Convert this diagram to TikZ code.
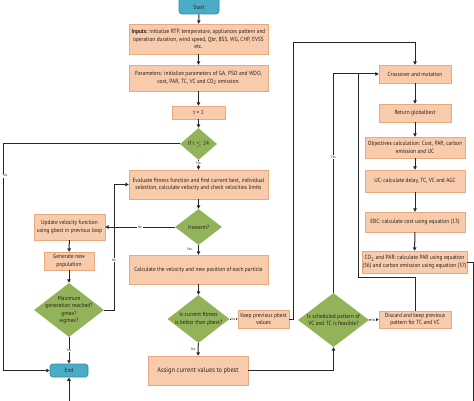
\documentclass[tikz,border=0pt]{standalone}
\usepackage{fontspec}
\setmainfont[FakeStretch=0.9]{PT Sans}
\usetikzlibrary{calc}
\usetikzlibrary{shapes.geometric}
\usetikzlibrary{arrows.meta}
\definecolor{boxfill}{HTML}{F8CBAD}
\definecolor{boxline}{HTML}{E9A97E}
\definecolor{decfill}{HTML}{93B35A}
\definecolor{termfill}{HTML}{4BACC6}
\definecolor{termline}{HTML}{2F8DAA}
\definecolor{ink}{HTML}{2A2118}

\begin{document}
\begin{tikzpicture}[x=1pt,y=-1pt,inner sep=0pt,text=ink,
  font=\fontsize{6}{7.4}\selectfont,
  box/.style={draw=boxline,fill=boxfill,align=center,line width=0.4pt},
  dec/.style={diamond,fill=decfill,inner sep=0pt},
  dectext/.style={align=center,text=ink},
  term/.style={draw=termline,fill=termfill,rounded corners=3pt,line width=0.7pt},
  ln/.style={line width=1pt,draw=black!85},
  arr/.style={ln,-{Triangle[length=3.4pt,width=3.4pt]}},
  lbl/.style={fill=white,inner sep=0.6pt,font=\fontsize{3.6}{4}\selectfont}]
\clip (0,0) rectangle (474,401);

\node[term,minimum width=40pt,minimum height=20pt] (st) at (199,4) {};
\node at (199,7) {Start};
\node[box,minimum width=139pt,minimum height=30pt] (m1) at (198.5,39)
  {\textbf{Inputs:} initialize RTP, temperature, appliances pattern and\\
   operation duration, wind speed, Qbr, BSS, WG, CHP, EVSS\\ etc.};
\node[box,minimum width=139pt,minimum height=26pt] (m2) at (198.5,78)
  {Parameters: initialize parameters of GA, PSO and WDO,\\
   cost, PAR, TC, VC and CO\textsubscript{2} emission.};
\node[box,minimum width=53pt,minimum height=13pt] (m3) at (198.5,112.5) {t = 1};
\node[dec,minimum width=37pt,minimum height=32pt,
  label={[dectext]center:If t $\leq$ 24}] (m4) at (198.5,144) {};
\node[box,minimum width=139pt,minimum height=29pt] (m5) at (198.5,184.5)
  {Evaluate fitness function and find current best, individual\\
   selection, calculate velocity and check velocities limits};
\node[dec,minimum width=47pt,minimum height=36pt,
  label={[dectext]center:i<swarm?}] (m6) at (198.5,227) {};
\node[box,minimum width=139pt,minimum height=29pt] (m7) at (198.5,269.5)
  {Calculate the velocity and new position of each particle};
\node[dec,minimum width=62pt,minimum height=48pt,
  label={[dectext]center:Is current fitness\\ is better than pbest?}] (m8) at (198.5,319) {};
\node[box,minimum width=51pt,minimum height=18pt] (m9) at (263.5,319)
  {Keep previous pbest\\ values};
\node[box,minimum width=100pt,minimum height=29pt,font=\fontsize{7}{8}\selectfont] (m10) at (198,370.5)
  {Assign current values to pbest};

\node[box,minimum width=71pt,minimum height=26pt] (l1) at (69.5,227)
  {Update velocity function\\ using gbest in previous loop};
\node[box,minimum width=50pt,minimum height=18pt] (l2) at (69,261)
  {Generate new\\ population};
\node[dec,minimum width=70pt,minimum height=54pt,
  label={[dectext]center:Maximum\\ generation reached?\\ gmax?\\ wgmax?}] (l3) at (69,310) {};
\node[term,minimum width=38pt,minimum height=13pt] (en) at (69,370.5) {End};

\node[box,minimum width=72pt,minimum height=18pt] (r1) at (415,74) {Crossover and mutation};
\node[box,minimum width=72pt,minimum height=18pt] (r2) at (415,113) {Return globalbest};
\node[box,minimum width=100pt,minimum height=21pt] (r3) at (415,147.5)
  {Objectives calculation: Cost, PAR, carbon\\ emission and UC};
\node[box,minimum width=100pt,minimum height=22pt] (r4) at (415,181)
  {UC: calculate delay, TC, VC and AGC};
\node[box,minimum width=100pt,minimum height=20pt] (r5) at (415,222)
  {EBC: calculate cost using equation (13)};
\node[box,minimum width=105pt,minimum height=22pt] (r6) at (414.5,262)
  {CO\textsubscript{2} and PAR: calculate PAR using equation\\
   (36) and carbon emission using equation (37)};
\node[dec,minimum width=71pt,minimum height=54pt,
  label={[dectext]center:Is scheduled pattern of\\ VC and TC is feasible?}] (r7) at (333.5,320) {};
\node[box,minimum width=72pt,minimum height=17pt] (r8) at (415,319.5)
  {Discard and keep previous\\ pattern for TC and VC};

\coordinate (xl) at (3,144);
\coordinate (xa) at (114,0);
\coordinate (t1) at (293,43);
\coordinate (t2) at (358,277);
\coordinate (t3) at (473,420);

\draw[arr] (st) -- (m1);
\draw[arr] (m1) -- (m2);
\draw[arr] (m2) -- (m3);
\draw[arr] (m3) -- (m4);
\draw[arr] (m4) -- node[lbl,pos=0.3] {Yes} (m5);
\draw[arr] (m5) -- (m6);
\draw[arr] (m6) -- node[lbl,pos=0.4,xshift=-9pt] {Yes} (m7);
\draw[arr] (m7) -- (m8);
\draw[arr] (m8) -- node[lbl,pos=0.45,xshift=-5pt] {Yes} (m10);
\draw[arr] (m8) -- node[lbl,pos=0.45] {No} (m9);

\draw[arr] (m4.west) -- (xl) |- node[lbl,pos=0.07,xshift=2pt] {Yes} (en.west);
\draw[arr] (m6.west) -- node[lbl,pos=0.5] {No} (l1.east);
\draw[arr] (l1) -- (l2);
\draw[arr] (l2) -- (l3);
\draw[arr] (l3) -- node[lbl,pos=0.5] {Yes} (en);
\draw[arr] (l3.east) -| node[lbl,pos=0.7] {No} (xa |- m5.west) -- (m5.west);

\draw[arr] (m9.east) -| (t1) -| (r1.north);
\draw[arr] (m10.east) -| (r7.south);
\draw[arr] (r7.north) |- node[lbl,pos=0.31] {Yes} (r1.west);
\draw[arr] (r7.east) -- node[lbl,pos=0.45] {No} (r8.west);
\draw[ln] (r8.north) |- (t2) -- (t2 |- r1.west);

\draw[arr] (r1) -- (r2);
\draw[arr] (r2) -- (r3);
\draw[arr] (r3) -- (r4);
\draw[arr] (r4) -- (r5);
\draw[arr] (r5) -- (r6);
\draw[arr] (r6.east) -| (t3) -| (en.south);
\end{tikzpicture}
\end{document}
